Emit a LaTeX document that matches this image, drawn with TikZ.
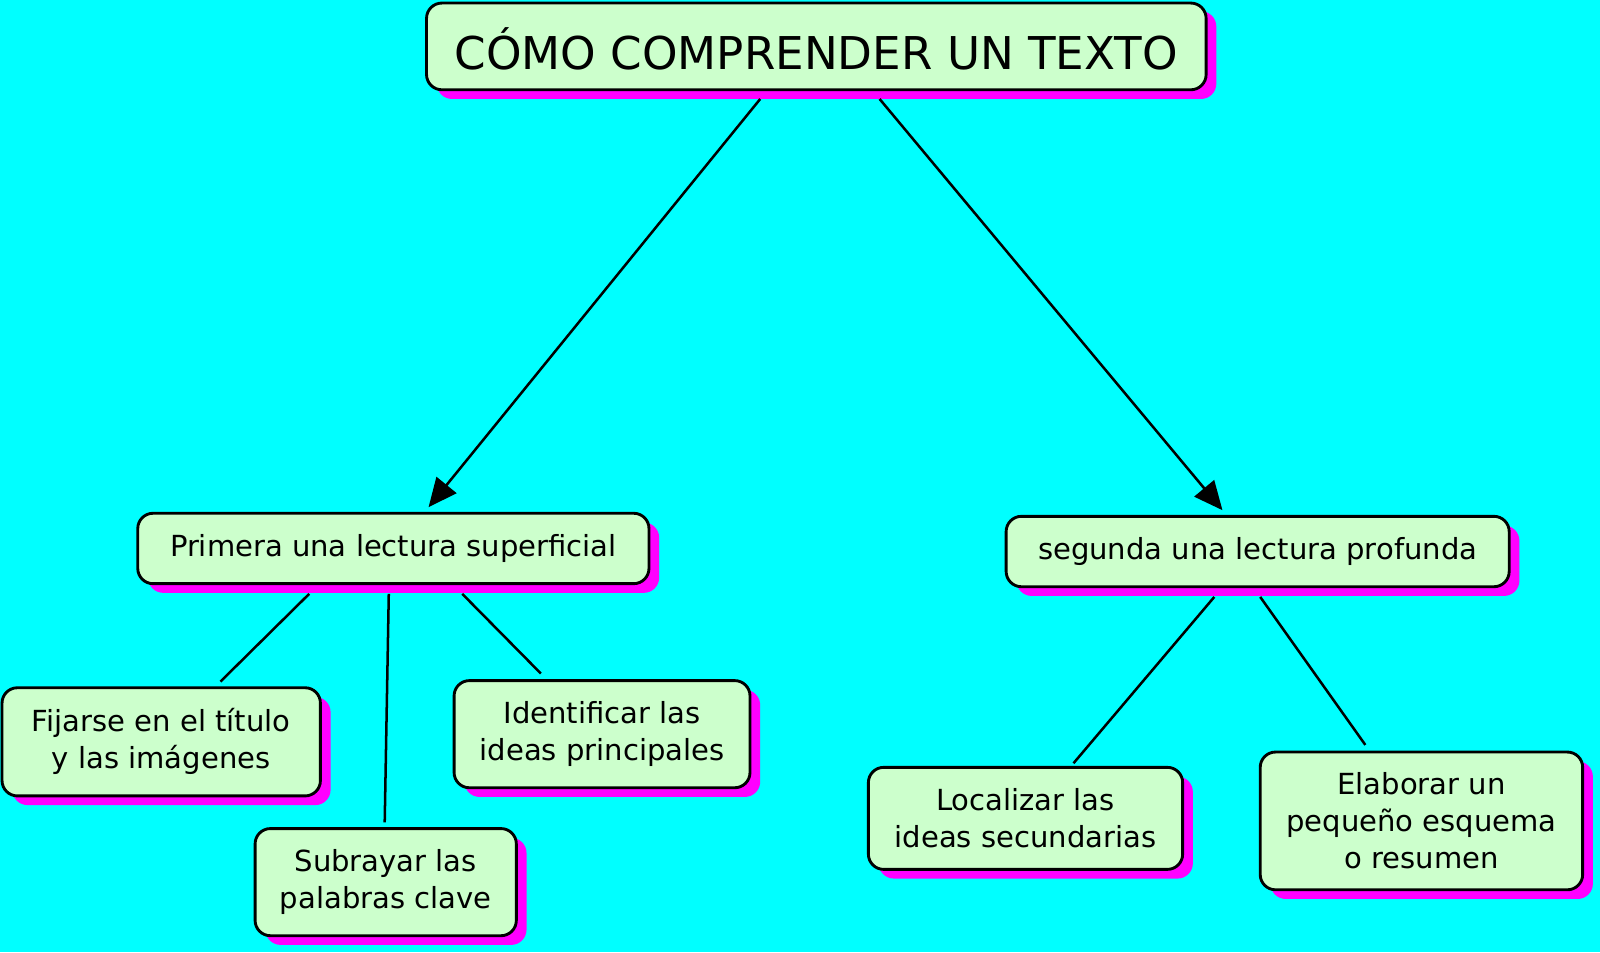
\documentclass[tikz,border=0pt]{standalone}
\usepackage{fontspec}
\setmainfont{DejaVu Sans}
\usetikzlibrary{arrows.meta}
\tikzset{box/.style={draw=black,line width=0.8pt,fill=boxfill,rounded corners=0.15cm},
shadowbox/.style={fill=shadowc,rounded corners=0.15cm},
lbl/.style={align=center,font=\fontsize{8.1pt}{10.3pt}\selectfont},
con/.style={line width=0.7pt},
arr/.style={con,-{Triangle[length=0.28cm,width=0.25cm]}}}
\definecolor{boxfill}{RGB}{204,255,204}
\definecolor{shadowc}{RGB}{255,0,255}
\definecolor{bg}{RGB}{0,255,255}
\newcommand{\mybx}[6]{%
 \fill[shadowbox] (#2+0.1,-#3-0.09) rectangle (#4+0.1,-#5-0.09);
 \draw[box] (#2,-#3) rectangle (#4,-#5);
 \coordinate (#1) at ({(#2+#4)/2},{-(#3+#5)/2});
 \node[lbl] (#1t) at (#1) {#6};}
\begin{document}
\begin{tikzpicture}
\fill[bg] (0,0) rectangle (15.68,-9.33);
\useasboundingbox (0,0) rectangle (15.68,-9.33);
\fill[shadowc,rounded corners=0.15cm] (4.28,-0.11) rectangle (11.92,-0.97);
\draw[box] (4.18,-0.03) rectangle (11.82,-0.88);
\node[font=\fontsize{12.6pt}{15pt}\selectfont] (title) at (8.0,-0.48) {CÓMO COMPRENDER UN TEXTO};
\mybx{p}{1.35}{5.03}{6.36}{5.72}{Primera una lectura superficial}
\mybx{s}{9.86}{5.06}{14.79}{5.75}{segunda una lectura profunda}
\mybx{f}{0.02}{6.74}{3.14}{7.80}{Fijarse en el título\\y las imágenes}
\mybx{u}{2.50}{8.12}{5.06}{9.17}{Subrayar las\\palabras clave}
\mybx{i}{4.45}{6.67}{7.35}{7.72}{Identificar las\\ideas principales}
\mybx{l}{8.51}{7.52}{11.59}{8.52}{Localizar las\\ideas secundarias}
\mybx{e}{12.35}{7.37}{15.51}{8.72}{Elaborar un\\pequeño esquema\\o resumen}
\coordinate (t1) at (7.45,-0.97);
\coordinate (t2) at (8.62,-0.97);
\coordinate (pa) at (4.20,-4.97);
\coordinate (sa) at (11.98,-5.00);
\draw[arr] (t1) -- (pa);
\draw[arr] (t2) -- (sa);
\coordinate (p1) at (3.03,-5.82); \coordinate (f1) at (2.16,-6.68);
\coordinate (p2) at (3.81,-5.82); \coordinate (u1) at (3.77,-8.06);
\coordinate (p3) at (4.53,-5.82); \coordinate (i1) at (5.30,-6.60);
\coordinate (s1) at (11.90,-5.85); \coordinate (l1) at (10.52,-7.48);
\coordinate (s2) at (12.35,-5.85); \coordinate (e1) at (13.38,-7.30);
\draw[con] (p1) -- (f1);
\draw[con] (p2) -- (u1);
\draw[con] (p3) -- (i1);
\draw[con] (s1) -- (l1);
\draw[con] (s2) -- (e1);
\end{tikzpicture}
\end{document}
